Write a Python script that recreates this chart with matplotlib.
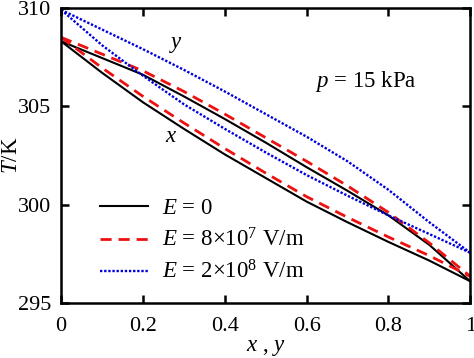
import numpy as np
import matplotlib
matplotlib.use("Agg")
import matplotlib.pyplot as plt

plt.rcParams['font.family'] = 'Liberation Serif'
plt.rcParams['mathtext.fontset'] = 'custom'
plt.rcParams['mathtext.rm'] = 'Liberation Serif'
plt.rcParams['mathtext.it'] = 'Liberation Serif:italic'

# mole fraction grid
frac = [0.0, 0.1, 0.2, 0.3, 0.4, 0.5, 0.6, 0.7, 0.8, 0.9, 1.0]

# E = 0
T_x_E0 = [308.3, 306.7, 305.2, 303.85, 302.55, 301.35, 300.15, 299.1, 298.1, 297.15, 296.1]
T_y_E0 = [308.3, 307.45, 306.6, 305.5, 304.35, 303.15, 301.9, 300.7, 299.45, 297.95, 296.1]
# E = 8e7 V/m
T_x_E1 = [308.5, 306.95, 305.5, 304.15, 302.85, 301.6, 300.4, 299.35, 298.35, 297.4, 296.35]
T_y_E1 = [308.5, 307.65, 306.8, 305.75, 304.6, 303.4, 302.2, 300.95, 299.6, 298.05, 296.35]
# E = 2e8 V/m
T_x_E2 = [309.9, 308.1, 306.55, 305.1, 303.85, 302.65, 301.5, 300.45, 299.45, 298.5, 297.55]
T_y_E2 = [309.9, 308.9, 307.9, 306.85, 305.75, 304.6, 303.45, 302.2, 300.75, 299.1, 297.55]

xticks = [0, 0.2, 0.4, 0.6, 0.8, 1]
xticklabels = ["0", "0.2", "0.4", "0.6", "0.8", "1"]
yticks = [295, 300, 305, 310]

fig = plt.figure(figsize=(4.74, 3.58), dpi=100)
ax = fig.add_axes([0.129, 0.154, 0.863, 0.824])

red = "#ee1111"
blue = "#0000dd"
ax.plot(frac, T_x_E0, color="black", lw=1.5, label=r"$E$ = 0")
ax.plot(frac, T_y_E0, color="black", lw=1.5)
ax.plot(frac, T_x_E1, color=red, lw=2, ls=(0, (4, 2.5)), label=r"$E$ = 8×10$^{7}$ V/m")
ax.plot(frac, T_y_E1, color=red, lw=2, ls=(0, (4, 2.5)))
ax.plot(frac, T_x_E2, color=blue, lw=1.7, ls=(0, (1, 0.75)), label=r"$E$ = 2×10$^{8}$ V/m")
ax.plot(frac, T_y_E2, color=blue, lw=1.7, ls=(0, (1, 0.75)))

ax.set_xlim(0, 1)
ax.set_ylim(295, 310)
ax.set_xticks(xticks)
ax.set_xticklabels(xticklabels)
ax.set_yticks(yticks)
ax.tick_params(direction="in", length=6, width=1.8, labelsize=16,
               top=True, right=True)
ax.tick_params(axis="x", pad=10)
ax.tick_params(axis="y", pad=7)
for s in ax.spines.values():
    s.set_linewidth(1.8)

ax.set_xlabel(r"$x$ , $y$", fontsize=16.5, labelpad=1)
ax.set_ylabel(r"$T$/K", fontsize=16.5, labelpad=-3)

ax.text(0.62, 0.75, r"$p$ = 15 kPa", transform=ax.transAxes, fontsize=16.5,
        ha="left", va="center")
ax.text(0.28, 0.875, r"$y$", transform=ax.transAxes, fontsize=16.5, ha="center", va="center")
ax.text(0.27, 0.563, r"$x$", transform=ax.transAxes, fontsize=16.5, ha="center", va="center")

ax.legend(loc="lower left", bbox_to_anchor=(0.073, 0.033), frameon=False,
          fontsize=16.5, handlelength=2.1, handletextpad=0.6, labelspacing=0.4,
          borderaxespad=0)

fig.savefig("out.png", dpi=100)
